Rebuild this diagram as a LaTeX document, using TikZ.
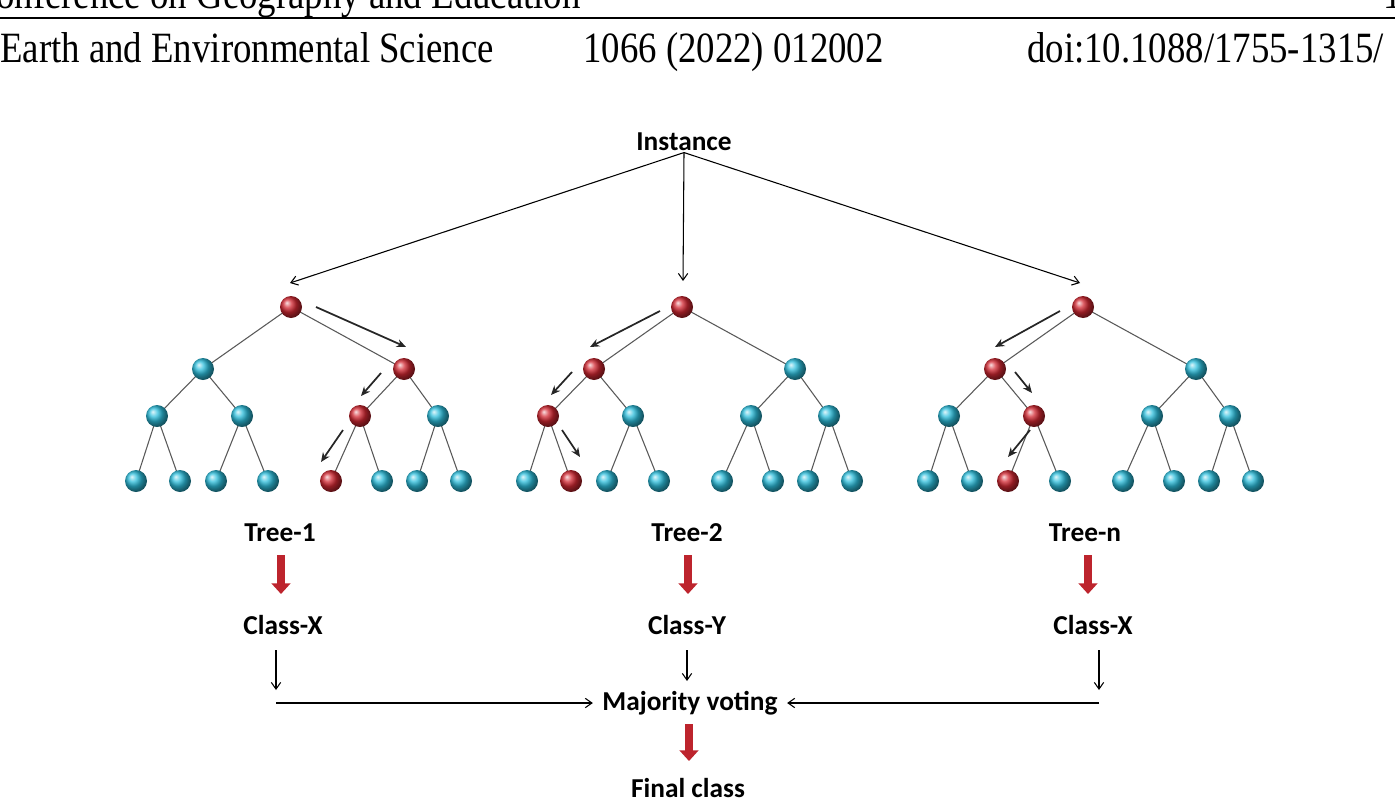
\documentclass[tikz,border=0pt]{standalone}
\usepackage{fontspec}
\setmainfont{Liberation Serif}
\newfontfamily\lab{Carlito}
\usetikzlibrary{arrows.meta}
\definecolor{cy}{RGB}{45,190,220}
\definecolor{rd}{RGB}{210,40,50}
\begin{document}
\begin{tikzpicture}[x=0.75pt,y=-0.75pt,
  cb/.style={circle,minimum size=16.5pt,inner sep=0pt,ball color=cy},
  rb/.style={circle,minimum size=16.5pt,inner sep=0pt,ball color=rd},
  ed/.style={draw=gray!70!black,line width=0.8pt},
  pa/.style={-{Stealth[length=7pt,width=6pt]},line width=1.3pt,black!85},
  lb/.style={font=\lab\bfseries\fontsize{20.5}{22}\selectfont,inner sep=1pt},
  hd/.style={font=\fontsize{30}{32}\selectfont,inner sep=0pt,anchor=base west,xscale=0.92,yscale=1.08},
  th/.style={-{Straight Barb[length=5pt,width=7pt]},line width=0.8pt},
  big/.style={-{Triangle[length=8pt,width=14pt]},line width=6pt,draw=rd!90!black}]
\useasboundingbox (0,0) rectangle (1395,803);
\clip (0,0) rectangle (1395,803);
% header
\node[hd] (h1) at (-4,8) {onference on Geography and Education};
\node[hd] (h1r) at (1383,8) {1};
\draw[line width=1.6pt] (0,18) -- (1395,18);
\node[hd] (h2) at (0,62) {Earth and Environmental Science};
\node[hd] (h3) at (583,62) {1066 (2022) 012002};
\node[hd] (h4) at (1027,62) {doi:10.1088/1755-1315/};
% instance
\node[lb] (inst) at (684,142) {Instance};
\foreach \o/\t in {0/a,391/b,792/c}{
  \begin{scope}[xshift=\o*0.75pt]
  \coordinate (\t r) at (291,307);
  \coordinate (\t L) at (203,369);
  \coordinate (\t R) at (404,369);
  \coordinate (\t LL) at (157,416);
  \coordinate (\t LR) at (242,416);
  \coordinate (\t RL) at (360,416);
  \coordinate (\t RR) at (438,416);
  \coordinate (\t 1) at (136,481);
  \coordinate (\t 2) at (180,481);
  \coordinate (\t 3) at (216,481);
  \coordinate (\t 4) at (268,481);
  \coordinate (\t 5) at (331,481);
  \coordinate (\t 6) at (382,481);
  \coordinate (\t 7) at (417,481);
  \coordinate (\t 8) at (461,481);
  \draw[ed] (\t L)--(\t r)--(\t R) (\t LL)--(\t L)--(\t LR) (\t RL)--(\t R)--(\t RR)
    (\t 1)--(\t LL)--(\t 2) (\t 3)--(\t LR)--(\t 4) (\t 5)--(\t RL)--(\t 6) (\t 7)--(\t RR)--(\t 8);
  \end{scope}}
\node[rb] (A0) at (ar) {}; \node[cb] (A1) at (aL) {}; \node[rb] (A2) at (aR) {};
\node[cb] (A3) at (aLL) {}; \node[cb] (A4) at (aLR) {}; \node[rb] (A5) at (aRL) {}; \node[cb] (A6) at (aRR) {};
\node[cb] (A7) at (a1) {}; \node[cb] (A8) at (a2) {}; \node[cb] (A9) at (a3) {}; \node[cb] (A10) at (a4) {};
\node[rb] (A11) at (a5) {}; \node[cb] (A12) at (a6) {}; \node[cb] (A13) at (a7) {}; \node[cb] (A14) at (a8) {};
\node[rb] (B0) at (br) {}; \node[rb] (B1) at (bL) {}; \node[cb] (B2) at (bR) {};
\node[rb] (B3) at (bLL) {}; \node[cb] (B4) at (bLR) {}; \node[cb] (B5) at (bRL) {}; \node[cb] (B6) at (bRR) {};
\node[cb] (B7) at (b1) {}; \node[rb] (B8) at (b2) {}; \node[cb] (B9) at (b3) {}; \node[cb] (B10) at (b4) {};
\node[cb] (B11) at (b5) {}; \node[cb] (B12) at (b6) {}; \node[cb] (B13) at (b7) {}; \node[cb] (B14) at (b8) {};
\node[rb] (C0) at (cr) {}; \node[rb] (C1) at (cL) {}; \node[cb] (C2) at (cR) {};
\node[cb] (C3) at (cLL) {}; \node[rb] (C4) at (cLR) {}; \node[cb] (C5) at (cRL) {}; \node[cb] (C6) at (cRR) {};
\node[cb] (C7) at (c1) {}; \node[cb] (C8) at (c2) {}; \node[rb] (C9) at (c3) {}; \node[cb] (C10) at (c4) {};
\node[cb] (C11) at (c5) {}; \node[cb] (C12) at (c6) {}; \node[cb] (C13) at (c7) {}; \node[cb] (C14) at (c8) {};
\coordinate (ia) at (290,283); \coordinate (ib) at (683,281); \coordinate (ic) at (1080,283);
\draw[th] (inst.south) -- (ia);
\draw[th] (inst.south) -- (ib);
\draw[th] (inst.south) -- (ic);
\coordinate (p1) at (316,307); \coordinate (p2) at (406,347);
\coordinate (p3) at (381,373); \coordinate (p4) at (361,396);
\coordinate (p5) at (343,430); \coordinate (p6) at (321,462);
\draw[pa] (p1)--(p2); \draw[pa] (p3)--(p4); \draw[pa] (p5)--(p6);
\coordinate (q1) at (660,311); \coordinate (q2) at (590,347);
\coordinate (q3) at (572,372); \coordinate (q4) at (551,395);
\coordinate (q5) at (562,430); \coordinate (q6) at (580,457);
\draw[pa] (q1)--(q2); \draw[pa] (q3)--(q4); \draw[pa] (q5)--(q6);
\coordinate (s1) at (1060,311); \coordinate (s2) at (995,347);
\coordinate (s3) at (1015,372); \coordinate (s4) at (1032,393);
\coordinate (s5) at (1030,430); \coordinate (s6) at (1008,457);
\draw[pa] (s1)--(s2); \draw[pa] (s3)--(s4); \draw[pa] (s5)--(s6);
\node[lb] (t1) at (280,533) {Tree-1};
\node[lb] (t2) at (687,533) {Tree-2};
\node[lb] (tn) at (1085,533) {Tree-n};
\node[lb] (k1) at (283,625) {Class-X};
\node[lb] (k2) at (687,625) {Class-Y};
\node[lb] (kn) at (1093,625) {Class-X};
\draw[big] (281,555) -- (281,594);
\draw[big] (688,555) -- (688,594);
\draw[big] (1088,555) -- (1088,594);
\node[lb] (mv) at (690,703) {Majority voting};
\node[lb] (fc) at (688,788) {Final class};
\draw[big] (689,724) -- (689,761);
\coordinate (d1) at (276,650); \coordinate (e1) at (276,690);
\coordinate (dn) at (1099,650); \coordinate (en) at (1099,690);
\coordinate (dm) at (687,650); \coordinate (em) at (687,681);
\draw[th] (d1) -- (e1);
\draw[th] (dn) -- (en);
\draw[th] (dm) -- (em);
\draw[th,shorten >=6pt] (276,703) -- (mv.west);
\draw[th,shorten >=6pt] (1099,703) -- (mv.east);
\end{tikzpicture}
\end{document}
